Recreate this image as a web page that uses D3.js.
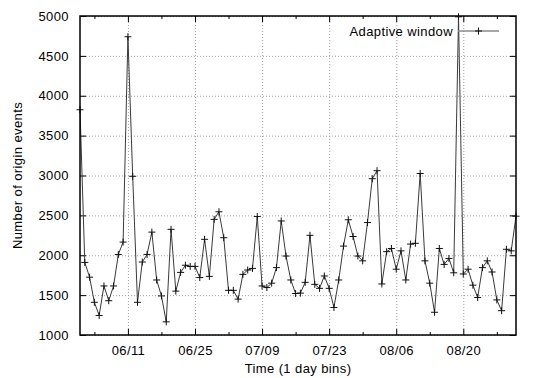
<!DOCTYPE html>
<html>
<head>
<meta charset="utf-8">
<script src="https://cdn.jsdelivr.net/npm/d3@7"></script>
<style>
  body { margin: 0; background: white; }
  text { font-family: "Liberation Sans", Arial, sans-serif; letter-spacing: 0.4px; }
</style>
</head>
<body>
<script>
// daily counts, one bin per day starting 06/01
const startDay = "2008-06-01"
const counts = [
    3825, 1910, 1725, 1410, 1245, 1615, 1430, 1615, 2010, 2165,
    4740, 2990, 1410, 1915, 2010, 2290, 1690, 1490, 1165, 2325,
    1550, 1785, 1875, 1860, 1860, 1720, 2200, 1735, 2450, 2545,
    2220, 1560, 1560, 1450, 1760, 1815, 1835, 2485, 1615, 1595,
    1650, 1845, 2430, 1990, 1690, 1520, 1525, 1660, 2250, 1635,
    1585, 1740, 1585, 1345, 1690, 2115, 2445, 2235, 1990, 1930,
    2410, 2960, 3060, 1640, 2045, 2085, 1825, 2055, 1690, 2140,
    2150, 3025, 1930, 1650, 1285, 2085, 1885, 1960, 1780, 4990,
    1765, 1825, 1625, 1470, 1845, 1930, 1790, 1440, 1305, 2075,
    2055, 2490,
]
const xDomain = ["2008-06-01", "2008-08-31"]
const majorTicks = ["2008-06-11", "2008-06-25", "2008-07-09", "2008-07-23", "2008-08-06", "2008-08-20"]
const minorTicks = ["2008-06-04", "2008-06-18", "2008-07-02", "2008-07-16", "2008-07-30", "2008-08-13", "2008-08-27"]
const yTicks = [1000, 1500, 2000, 2500, 3000, 3500, 4000, 4500, 5000]
const seriesName = "Adaptive window"
const xTitle = "Time (1 day bins)"
const yTitle = "Number of origin events"

const parse = d3.utcParse("%Y-%m-%d")

function makeRows() {
    const d0 = parse(startDay)
    return counts.map((v, i) => ({ t: d3.utcDay.offset(d0, i), v: v }))
}

function setCanvas(w, h) {
    return d3.select("body")
    .append("svg")
        .attr("width", w)
        .attr("height", h)
}

function crossPath(s) {
    return `M${-s},0H${s}M0,${-s}V${s}`
}

function draw() {
    const W = 540, H = 378
    const m = { left: 80, right: 516, top: 16, bottom: 335 }
    const a = {
        frame: "#000",
        grid: "#a0a0a0",
        line: "#3a3a3a",
        mark: "#111",
        text: "#000",
        font: 13,
    }
    const rows = makeRows()
    const svg = setCanvas(W, H)

    const x = d3.scaleUtc()
        .domain(xDomain.map(parse))
        .range([m.left, m.right])
    const y = d3.scaleLinear()
        .domain([1000, 5000])
        .range([m.bottom, m.top])

    const pw = m.right - m.left
    const ph = m.bottom - m.top

    // dotted grid
    svg.append("g")
        .attr("transform", `translate(${m.left},0)`)
        .call(d3.axisLeft(y).tickValues(yTicks).tickSize(-pw).tickFormat(""))
        .call(g => g.select(".domain").remove())
        .selectAll("line")
            .attr("stroke", a.grid)
            .attr("stroke-dasharray", "1,2")
    svg.append("g")
        .attr("transform", `translate(0,${m.bottom})`)
        .call(d3.axisBottom(x).tickValues(majorTicks.map(parse)).tickSize(-ph).tickFormat(""))
        .call(g => g.select(".domain").remove())
        .selectAll("line")
            .attr("stroke", a.grid)
            .attr("stroke-dasharray", "1,2")

    // ticks, inward, mirrored
    const tickStyle = g => {
        g.select(".domain").remove()
        g.selectAll("line").attr("stroke", a.frame)
        g.selectAll("text")
            .attr("fill", a.text)
            .style("font-size", a.font + "px")
            .style("font-family", "Liberation Sans, Arial, sans-serif")
    }
    svg.append("g")
        .attr("transform", `translate(${m.left},0)`)
        .call(d3.axisLeft(y).tickValues(yTicks).tickSize(-6).tickPadding(11).tickFormat(d3.format("d")))
        .call(tickStyle)
    svg.append("g")
        .attr("transform", `translate(${m.right},0)`)
        .call(d3.axisRight(y).tickValues(yTicks).tickSize(-6).tickFormat(""))
        .call(tickStyle)
    svg.append("g")
        .attr("transform", `translate(0,${m.bottom})`)
        .call(d3.axisBottom(x).tickValues(majorTicks.map(parse)).tickSize(-6).tickPadding(11)
            .tickFormat(d3.utcFormat("%m/%d")))
        .call(tickStyle)
    svg.append("g")
        .attr("transform", `translate(0,${m.bottom})`)
        .call(d3.axisBottom(x).tickValues(minorTicks.map(parse)).tickSize(-3).tickFormat(""))
        .call(tickStyle)
    svg.append("g")
        .attr("transform", `translate(0,${m.top})`)
        .call(d3.axisTop(x).tickValues(majorTicks.map(parse)).tickSize(-6).tickFormat(""))
        .call(tickStyle)
    svg.append("g")
        .attr("transform", `translate(0,${m.top})`)
        .call(d3.axisTop(x).tickValues(minorTicks.map(parse)).tickSize(-3).tickFormat(""))
        .call(tickStyle)

    // series
    svg.append("clipPath").attr("id", "clip")
        .append("rect")
            .attr("x", m.left).attr("y", m.top - 1)
            .attr("width", pw).attr("height", ph + 1)
    const plot = svg.append("g").attr("clip-path", "url(#clip)")
    plot.append("path")
        .datum(rows)
        .attr("fill", "none")
        .attr("stroke", a.line)
        .attr("stroke-width", 1)
        .attr("d", d3.line().x(d => x(d.t)).y(d => y(d.v)))
    svg.append("g")
        .attr("stroke", a.mark)
        .attr("stroke-width", 1)
    .selectAll("path")
        .data(rows)
        .join("path")
            .attr("transform", d => `translate(${x(d.t)},${y(d.v)})`)
            .attr("d", crossPath(3.5))

    // frame
    svg.append("rect")
        .attr("x", m.left).attr("y", m.top)
        .attr("width", pw).attr("height", ph)
        .attr("fill", "none")
        .attr("stroke", a.frame)
        .attr("stroke-width", 1.5)

    // legend
    const ly = 31
    svg.append("text")
        .attr("x", 453).attr("y", ly)
        .attr("dy", "0.35em")
        .attr("text-anchor", "end")
        .attr("fill", a.text)
        .style("font-size", a.font + "px")
        .text(seriesName)
    svg.append("line")
        .attr("x1", 458).attr("x2", 499)
        .attr("y1", ly).attr("y2", ly)
        .attr("stroke", "#8a8a8a")
        .attr("stroke-width", 1.5)
    svg.append("path")
        .attr("transform", `translate(478.5,${ly})`)
        .attr("d", crossPath(3.5))
        .attr("stroke", a.mark)

    // titles
    svg.append("text")
        .attr("x", (m.left + m.right) / 2).attr("y", 373)
        .attr("text-anchor", "middle")
        .attr("fill", a.text)
        .style("font-size", a.font + "px")
        .text(xTitle)
    svg.append("text")
        .attr("transform", `translate(17,${(m.top + m.bottom) / 2}) rotate(-90)`)
        .attr("dy", "0.35em")
        .attr("text-anchor", "middle")
        .attr("fill", a.text)
        .style("font-size", a.font + "px")
        .text(yTitle)
}

draw()
</script>
</body>
</html>
